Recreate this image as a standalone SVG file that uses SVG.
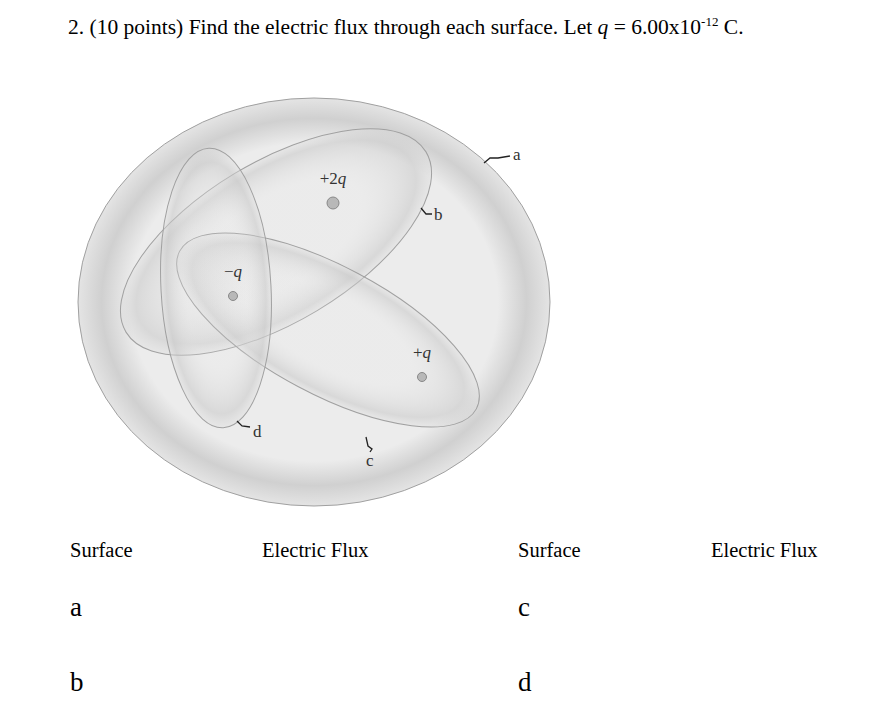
<svg xmlns="http://www.w3.org/2000/svg" width="896" height="707" viewBox="0 0 896 707">
<style>
text{font-family:"Liberation Serif",serif;fill:#000}
.s{stroke:#a0a0a0;stroke-width:1}
.lbl{font-size:17px;fill:#333}
.ld{fill:none;stroke:#222;stroke-width:1.3}
.chg{fill:#b8b8b8;stroke:#888;stroke-width:1}
</style>
<defs>
<radialGradient id="ga" cx="0.5" cy="0.5" r="0.5">
<stop offset="0.78" stop-color="#ececec"/><stop offset="0.9" stop-color="#d0d0d0"/><stop offset="1" stop-color="#e4e4e4"/>
</radialGradient>
<radialGradient id="gi" cx="0.5" cy="0.5" r="0.5">
<stop offset="0.55" stop-color="#e8e8e8" stop-opacity="0.15"/><stop offset="0.9" stop-color="#c8c8c8" stop-opacity="0.55"/><stop offset="1" stop-color="#dedede" stop-opacity="0.4"/>
</radialGradient>
</defs>
<rect width="896" height="707" fill="#fff"/>
<text x="68" y="34" font-size="21.5">2. (10 points) Find the electric flux through each surface.  Let <tspan font-style="italic">q</tspan> = 6.00x10<tspan font-size="13" dy="-8">-12</tspan><tspan dy="8"> C.</tspan></text>
<g id="surface-a"><ellipse cx="314" cy="302" rx="236" ry="204" fill="url(#ga)" class="s"/></g>
<g id="surface-b"><ellipse cx="276" cy="242" rx="175" ry="80" transform="rotate(-31 276 242)" fill="url(#gi)" class="s"/></g>
<g id="surface-c"><ellipse cx="328" cy="330" rx="168" ry="64" transform="rotate(28 328 330)" fill="url(#gi)" class="s"/></g>
<g id="surface-d"><ellipse cx="216" cy="288" rx="55" ry="140" transform="rotate(-3 216 288)" fill="url(#gi)" class="s"/></g>
<g id="charges">
<circle cx="333" cy="203" r="6" class="chg"/>
<text x="333" y="184" class="lbl" text-anchor="middle">+2<tspan font-style="italic">q</tspan></text>
<circle cx="233" cy="296" r="4.5" class="chg"/>
<text x="233" y="277" class="lbl" text-anchor="middle">−<tspan font-style="italic">q</tspan></text>
<circle cx="422" cy="377" r="4.5" class="chg"/>
<text x="422" y="358" class="lbl" text-anchor="middle">+<tspan font-style="italic">q</tspan></text>
</g>
<g id="connectors">
<path class="ld" d="M484 163 L490 158 L498 158 L510 156"/>
<path class="ld" d="M421 208 L426 214 L432 214"/>
<path class="ld" d="M237 421 L242 426 L250 427"/>
<path class="ld" d="M366 437 L368 446 L372 449 L370 452"/>
</g>
<text x="513" y="160" class="lbl">a</text>
<text x="434" y="220" class="lbl">b</text>
<text x="253" y="437" class="lbl">d</text>
<text x="366" y="466" class="lbl">c</text>
<g id="table">
<text x="70" y="557" font-size="20.5">Surface</text>
<text x="262" y="557" font-size="20.5">Electric Flux</text>
<text x="518" y="557" font-size="20.5">Surface</text>
<text x="711" y="557" font-size="20.5">Electric Flux</text>
<text x="70" y="616" font-size="27">a</text>
<text x="518" y="616" font-size="27">c</text>
<text x="70" y="691" font-size="27">b</text>
<text x="518" y="691" font-size="27">d</text>
</g>
</svg>
